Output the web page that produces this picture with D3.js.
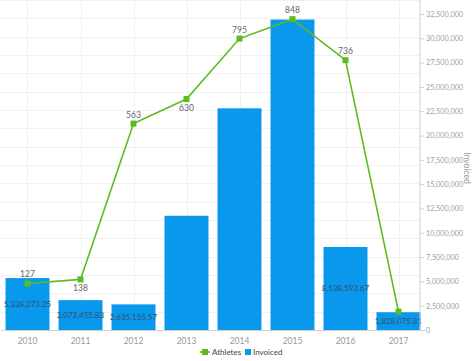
<!DOCTYPE html>
<html>
<head>
<meta charset="utf-8">
<script src="https://cdn.jsdelivr.net/npm/d3@7"></script>
<style>
  html, body { margin: 0; padding: 0; background: #fff; }
  svg { display: block; font-family: "Lato", "Open Sans", sans-serif; }
</style>
</head>
<body>
<svg id="chart" width="474" height="361"></svg>
<script>
const years = ["2010", "2011", "2012", "2013", "2014", "2015", "2016", "2017"];
const invoiced = [5338273.25, 3072455.83, 2635155.57, 11750000, 22800000, 31930000, 8538593.67, 1828075.81];
const invoicedLabels = ["5,338,273.25", "3,072,455.83", "2,635,155.57", "", "", "", "8,538,593.67", "1,828,075.81"];
const athletes = [127, 138, 563, 630, 795, 848, 736, 50];
const athleteLabelShown = [true, true, true, true, true, true, true, false];
const athleteLabelBelow = [false, true, false, true, false, false, false, false];
const rightTicks = [0, 2500000, 5000000, 7500000, 10000000, 12500000, 15000000, 17500000, 20000000, 22500000, 25000000, 27500000, 30000000, 32500000];
const athleteGrid = d3.range(0, 901, 50);

const svg = d3.select("#chart");
const plotLeft = 1, plotRight = 420, plotBottom = 330, plotTop = 14;

const x = d3.scaleBand().domain(years).range([1, 425]).paddingInner(0.17).paddingOuter(0.085);
const yR = d3.scaleLinear().domain([0, 32500000]).range([plotBottom, plotTop]);
const yA = d3.scaleLinear().domain([0, 862]).range([plotBottom, plotTop]);

// grid: horizontal (athletes axis), vertical at category centers
svg.append("g").selectAll("line").data(athleteGrid.filter(v => yA(v) >= 0 && v > 0)).join("line")
  .attr("x1", plotLeft).attr("x2", plotRight)
  .attr("y1", d => Math.round(yA(d)) + 0.5).attr("y2", d => Math.round(yA(d)) + 0.5)
  .attr("stroke", "#f1f1f1").attr("stroke-width", 1);
svg.append("g").selectAll("line").data(years).join("line")
  .attr("x1", d => Math.round(x(d) + x.bandwidth() / 2) + 0.5)
  .attr("x2", d => Math.round(x(d) + x.bandwidth() / 2) + 0.5)
  .attr("y1", 0).attr("y2", plotBottom)
  .attr("stroke", "#f1f1f1").attr("stroke-width", 1);

// bars
svg.append("g").selectAll("rect").data(years).join("rect")
  .attr("x", d => x(d))
  .attr("width", x.bandwidth())
  .attr("y", (d, i) => yR(invoiced[i]))
  .attr("height", (d, i) => plotBottom - yR(invoiced[i]))
  .attr("fill", "#0a98ec");

// bar labels
svg.append("g").selectAll("text").data(years).join("text")
  .attr("x", d => x(d) + x.bandwidth() / 2)
  .attr("y", (d, i) => (yR(invoiced[i]) + plotBottom) / 2 + 3)
  .attr("text-anchor", "middle")
  .attr("font-size", 8)
  .attr("fill", "#34506c")
  .text((d, i) => invoicedLabels[i]);

// x axis
const xAxis = d3.axisBottom(x).tickSize(0).tickPadding(8);
const gx = svg.append("g").attr("transform", `translate(0,${plotBottom})`).call(xAxis);
gx.select(".domain").attr("stroke", "#cfcfcf");
gx.selectAll("text").attr("fill", "#999").attr("font-size", 8.5).attr("font-family", "Lato, sans-serif");

// right axis
const yAxis = d3.axisRight(yR).tickValues(rightTicks).tickSize(4).tickPadding(2).tickFormat(d3.format(","));
const gy = svg.append("g").attr("transform", `translate(${plotRight},0)`).call(yAxis);
gy.select(".domain").attr("stroke", "#cfcfcf").attr("d", `M0,0V${plotBottom}`);
gy.selectAll(".tick line").attr("stroke", "#cfcfcf");
gy.selectAll("text").attr("fill", "#a0a0a0").attr("font-size", 7.3).attr("font-family", "Lato, sans-serif");

svg.append("text")
  .attr("transform", `translate(464,168) rotate(90)`)
  .attr("text-anchor", "middle")
  .attr("font-size", 8.5)
  .attr("fill", "#999")
  .text("Invoiced");

// athletes line
const cx = d => x(d) + x.bandwidth() / 2;
const line = d3.line().x((d, i) => cx(years[i])).y(d => yA(d));
svg.append("path").datum(athletes)
  .attr("d", line)
  .attr("fill", "none")
  .attr("stroke", "#5cbb1e")
  .attr("stroke-width", 1.6);
svg.append("g").selectAll("rect").data(athletes).join("rect")
  .attr("x", (d, i) => cx(years[i]) - 3)
  .attr("y", d => yA(d) - 3)
  .attr("width", 6).attr("height", 6)
  .attr("fill", "#5cbb1e");
svg.append("g").selectAll("text").data(athletes).join("text")
  .attr("x", (d, i) => cx(years[i]))
  .attr("y", (d, i) => athleteLabelBelow[i] ? yA(d) + 12 : yA(d) - 6)
  .attr("text-anchor", "middle")
  .attr("font-size", 8.5)
  .attr("fill", "#666")
  .text((d, i) => athleteLabelShown[i] ? d : "");

// legend
const lg = svg.append("g").attr("transform", "translate(0,352)");
lg.append("line").attr("x1", 200).attr("x2", 210).attr("y1", 0).attr("y2", 0)
  .attr("stroke", "#5cbb1e").attr("stroke-width", 1.6);
lg.append("rect").attr("x", 202).attr("y", -3).attr("width", 6).attr("height", 6).attr("fill", "#5cbb1e");
lg.append("text").attr("x", 212).attr("y", 3).attr("font-size", 8).attr("fill", "#444").text("Athletes");
lg.append("rect").attr("x", 245).attr("y", -3).attr("width", 6).attr("height", 6).attr("fill", "#0a98ec");
lg.append("text").attr("x", 253).attr("y", 3).attr("font-size", 8).attr("fill", "#444").text("Invoiced");
</script>
</body>
</html>
